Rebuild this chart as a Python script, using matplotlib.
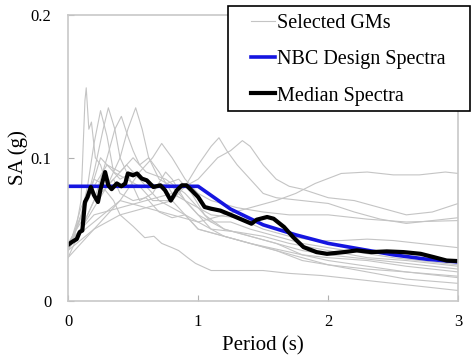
import matplotlib.pyplot as plt
from matplotlib.patches import Rectangle

plt.rcParams['font.family'] = ['Liberation Serif', 'DejaVu Serif']

# period values (s) and spectral accelerations (g)
nbc_T = [0, 1.0, 1.25, 1.5, 1.75, 2.0, 2.25, 2.5, 2.75, 3.0]
nbc_SA = [0.08, 0.08, 0.064, 0.053, 0.046, 0.040, 0.036, 0.032, 0.029, 0.027]

med_T = [0, 0.03, 0.067, 0.09, 0.11, 0.13, 0.15, 0.175, 0.2, 0.23, 0.25, 0.285, 0.31, 0.335,
         0.375, 0.41, 0.44, 0.46, 0.5, 0.53, 0.567, 0.605, 0.656, 0.71, 0.746, 0.79, 0.836,
         0.875, 0.91, 0.95, 1.0, 1.05, 1.1, 1.17, 1.25, 1.32, 1.41, 1.45, 1.53, 1.58, 1.66,
         1.73, 1.81, 1.91, 1.99, 2.12, 2.22, 2.33, 2.45, 2.58, 2.71, 2.81, 2.91, 3.0]
med_SA = [0.039, 0.041, 0.043, 0.048, 0.049, 0.069, 0.0725, 0.0795, 0.0737, 0.069, 0.078, 0.090,
          0.0807, 0.078, 0.082, 0.080, 0.082, 0.089, 0.0877, 0.089, 0.0854, 0.0842, 0.0795,
          0.0807, 0.0772, 0.070, 0.0772, 0.0807, 0.0807, 0.0772, 0.0725, 0.0655, 0.0643, 0.063,
          0.060, 0.0573, 0.0538, 0.0566, 0.0585, 0.0573, 0.0515, 0.0444, 0.0374, 0.0339, 0.0327,
          0.0339, 0.0351, 0.0339, 0.0344, 0.0339, 0.0327, 0.0304, 0.028, 0.0276]

gm1_T = [0, 0.05, 0.1, 0.13, 0.14, 0.16, 0.18, 0.21, 0.25, 0.3, 0.35, 0.4, 0.5, 0.6, 0.7, 0.8, 0.9,
         1.0, 1.2, 1.4, 1.6, 1.8, 2.0, 2.3, 2.6, 3.0]
gm1_SA = [0.036, 0.045, 0.07, 0.14, 0.149, 0.12, 0.125, 0.1, 0.095, 0.08, 0.085, 0.075, 0.07, 0.072,
          0.062, 0.058, 0.06, 0.05, 0.045, 0.04, 0.036, 0.032, 0.03, 0.028, 0.024, 0.02]

gm2_T = [0, 0.1, 0.15, 0.2, 0.25, 0.3, 0.35, 0.4, 0.5, 0.6, 0.7, 0.8, 0.9, 1.0, 1.1, 1.3, 1.5, 1.7,
         2.0, 2.3, 2.6, 3.0]
gm2_SA = [0.035, 0.06, 0.08, 0.11, 0.133, 0.115, 0.09, 0.085, 0.09, 0.08, 0.07, 0.065, 0.06, 0.055,
          0.05, 0.048, 0.045, 0.04, 0.035, 0.03, 0.028, 0.024]

gm3_T = [0, 0.1, 0.2, 0.27, 0.31, 0.36, 0.4, 0.45, 0.55, 0.65, 0.75, 0.8, 0.9, 1.0, 1.1, 1.25, 1.4,
         1.6, 1.8, 2.0, 2.5, 3.0]
gm3_SA = [0.04, 0.055, 0.09, 0.12, 0.135, 0.12, 0.1, 0.09, 0.07, 0.075, 0.09, 0.085, 0.07, 0.06,
          0.055, 0.055, 0.05, 0.045, 0.04, 0.037, 0.03, 0.025]

gm4_T = [0, 0.1, 0.2, 0.3, 0.36, 0.41, 0.46, 0.5, 0.55, 0.62, 0.7, 0.8, 0.9, 1.0, 1.1, 1.2, 1.4,
         1.6, 1.8, 2.0, 2.5, 3.0]
gm4_SA = [0.035, 0.05, 0.07, 0.1, 0.12, 0.129, 0.115, 0.105, 0.095, 0.1, 0.09, 0.075, 0.07, 0.065,
          0.055, 0.05, 0.045, 0.04, 0.035, 0.032, 0.027, 0.022]

gm5_T = [0, 0.1, 0.2, 0.3, 0.4, 0.46, 0.52, 0.57, 0.62, 0.7, 0.8, 0.9, 1.0, 1.1, 1.2, 1.4, 1.6,
         1.8, 2.0, 2.3, 2.6, 3.0]
gm5_SA = [0.04, 0.05, 0.065, 0.08, 0.1, 0.12, 0.135, 0.12, 0.1, 0.085, 0.08, 0.07, 0.06, 0.05,
          0.045, 0.04, 0.035, 0.028, 0.025, 0.022, 0.02, 0.017]

gm6_T = [0, 0.1, 0.2, 0.28, 0.35, 0.4, 0.5, 0.59, 0.66, 0.72, 0.8, 0.85, 0.92, 0.98, 1.1, 1.34,
         1.5, 1.7, 1.95, 2.2, 2.5, 2.8, 3.0]
gm6_SA = [0.03, 0.05, 0.07, 0.078, 0.07, 0.06, 0.052, 0.044, 0.045, 0.04, 0.037, 0.035, 0.03,
          0.026, 0.021, 0.021, 0.021, 0.019, 0.0175, 0.015, 0.012, 0.009, 0.007]

gm7_T = [0, 0.2, 0.4, 0.6, 0.8, 0.9, 1.0, 1.1, 1.16, 1.22, 1.3, 1.4, 1.5, 1.6, 1.8, 2.0, 2.2, 2.4,
         2.6, 2.8, 3.0]
gm7_SA = [0.035, 0.05, 0.06, 0.065, 0.07, 0.08, 0.095, 0.108, 0.114, 0.105, 0.095, 0.085, 0.075,
          0.072, 0.07, 0.068, 0.062, 0.057, 0.054, 0.056, 0.058]

gm8_T = [0, 0.2, 0.4, 0.6, 0.8, 1.0, 1.15, 1.25, 1.34, 1.4, 1.5, 1.6, 1.7, 1.8, 2.0, 2.2, 2.4, 2.6,
         2.8, 3.0]
gm8_SA = [0.04, 0.06, 0.065, 0.07, 0.075, 0.085, 0.1, 0.105, 0.112, 0.108, 0.095, 0.085, 0.08,
          0.078, 0.072, 0.07, 0.065, 0.06, 0.062, 0.068]

gm9_T = [0, 0.2, 0.4, 0.6, 0.8, 1.0, 1.2, 1.4, 1.6, 1.75, 1.9, 2.1, 2.3, 2.5, 2.7, 2.9, 3.0]
gm9_SA = [0.04, 0.055, 0.07, 0.065, 0.06, 0.055, 0.06, 0.065, 0.07, 0.075, 0.082, 0.089, 0.09,
          0.088, 0.088, 0.09, 0.089]

gm10_T = [0, 0.2, 0.3, 0.4, 0.5, 0.6, 0.75, 0.9, 1.0, 1.1, 1.3, 1.5, 1.7, 1.9, 2.1, 2.3, 2.5, 2.7,
          3.0]
gm10_SA = [0.038, 0.08, 0.095, 0.09, 0.1, 0.09, 0.085, 0.075, 0.065, 0.06, 0.058, 0.05, 0.045,
           0.042, 0.042, 0.043, 0.042, 0.04, 0.037]

gm11_T = [0, 0.15, 0.25, 0.35, 0.45, 0.55, 0.65, 0.8, 0.9, 1.0, 1.2, 1.4, 1.6, 1.8, 2.0, 2.3, 2.6,
          3.0]
gm11_SA = [0.035, 0.07, 0.1, 0.09, 0.085, 0.08, 0.07, 0.07, 0.06, 0.05, 0.045, 0.04, 0.035, 0.03,
           0.025, 0.02, 0.015, 0.012]

gm12_T = [0, 0.1, 0.2, 0.3, 0.45, 0.55, 0.7, 0.85, 0.95, 1.05, 1.2, 1.4, 1.6, 1.8, 2.0, 2.3, 2.6,
          3.0]
gm12_SA = [0.035, 0.065, 0.085, 0.08, 0.095, 0.085, 0.08, 0.085, 0.075, 0.06, 0.05, 0.045, 0.04,
           0.032, 0.028, 0.024, 0.02, 0.016]

gm13_T = [0, 0.2, 0.4, 0.55, 0.65, 0.72, 0.8, 0.9, 1.0, 1.1, 1.3, 1.5, 1.7, 2.0, 2.3, 2.6, 3.0]
gm13_SA = [0.03, 0.05, 0.07, 0.09, 0.1, 0.11, 0.1, 0.085, 0.075, 0.07, 0.065, 0.062, 0.06, 0.06,
           0.057, 0.055, 0.056]

gms = [(gm1_T, gm1_SA), (gm2_T, gm2_SA), (gm3_T, gm3_SA), (gm4_T, gm4_SA), (gm5_T, gm5_SA),
       (gm6_T, gm6_SA), (gm7_T, gm7_SA), (gm8_T, gm8_SA), (gm9_T, gm9_SA), (gm10_T, gm10_SA),
       (gm11_T, gm11_SA), (gm12_T, gm12_SA), (gm13_T, gm13_SA)]

W, H = 474, 358
fig = plt.figure(figsize=(W / 100, H / 100), dpi=100)
ax = fig.add_axes([0.1435, 0.1606, 0.8235, 0.7975])

for i, (t, sa) in enumerate(gms):
    ax.plot(t, sa, color='#c4c4c4', lw=0.8, label='Selected GMs' if i == 0 else None)
ax.plot(nbc_T, nbc_SA, color='#1515e0', lw=2.6, label='NBC Design Spectra')
ax.plot(med_T, med_SA, color='black', lw=3, label='Median Spectra')

ax.set_xlim(0, 3)
ax.set_ylim(0, 0.2)
ax.set_xticks([0, 1, 2, 3])
ax.set_xticklabels(['0', '1', '2', '3'])
ax.set_yticks([0, 0.1, 0.2])
ax.set_yticklabels(['0', '0.1', '0.2'])
for s in ax.spines.values():
    s.set_color('#c8c8c8')
    s.set_linewidth(1.2)
ax.tick_params(direction='in', length=4, color='#b0b0b0', labelsize=12)
ax.tick_params(axis='x', pad=10)
ax.tick_params(axis='y', pad=12)
ax.set_xlabel('Period (s)', fontsize=15, labelpad=4)
ax.set_ylabel('SA (g)', fontsize=15, labelpad=2)

# legend contents without frame, then a box drawn around it in figure pixels
leg = fig.legend(loc='upper left', bbox_to_anchor=(251 / W, 1 - 14 / H), borderaxespad=0,
                 borderpad=0, fontsize=14.5, handlelength=1.2, handletextpad=0.1,
                 labelspacing=0.85, frameon=False)
fig.patches.append(Rectangle((228 / W, 1 - 111 / H), 242 / W, 105 / H,
                             transform=fig.transFigure, fill=True, facecolor='white',
                             edgecolor='black', lw=1.2, zorder=4))
leg.set_zorder(5)

fig.savefig('out.png', dpi=100)
